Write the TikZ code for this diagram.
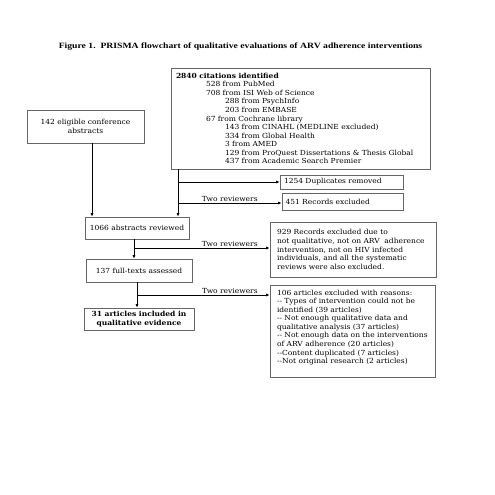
\documentclass[tikz,border=0pt]{standalone}
\usepackage{fontspec}
\setmainfont{DejaVu Serif}[FakeStretch=1.08]
\newfontfamily\titlefont{Liberation Serif}[FakeStretch=1.2]
\usetikzlibrary{arrows.meta}
\definecolor{boxgray}{gray}{0.4}
\tikzset{
  every node/.style={font=\fontsize{7.0}{8.6}\selectfont},
  boxnode/.style={draw=boxgray, line width=0.7bp, inner sep=0pt, align=left},
  cbox/.style={draw=boxgray, line width=0.7bp, inner sep=0pt, align=center},
  conn/.style={draw=black, line width=0.7bp},
  arr/.style={conn, -{Latex[length=3.5bp,width=3bp]}},
  lbl/.style={above, inner sep=0.6bp, font=\fontsize{7.0}{8.6}\selectfont}
}
\begin{document}
\begin{tikzpicture}[x=1bp,y=-1bp]
\useasboundingbox (0,0) rectangle (495,495);
\node[font=\titlefont\fontsize{8.1}{9.5}\selectfont\bfseries] (title) at (240.5,47)
  {Figure 1.\ \ PRISMA flowchart of qualitative evaluations of ARV adherence interventions};

\node[boxnode, minimum width=259bp, minimum height=101bp, text width=249bp] (top) at (300.5,118.5)
  {\textbf{2840 citations identified}\\
   \hspace*{30bp}528 from PubMed\\
   \hspace*{30bp}708 from ISI Web of Science\\
   \hspace*{49bp}288 from PsychInfo\\
   \hspace*{49bp}203 from EMBASE\\
   \hspace*{30bp}67 from Cochrane library\\
   \hspace*{49bp}143 from CINAHL (MEDLINE excluded)\\
   \hspace*{49bp}334 from Global Health\\
   \hspace*{49bp}3 from AMED\\
   \hspace*{49bp}129 from ProQuest Dissertations \& Thesis Global\\
   \hspace*{49bp}437 from Academic Search Premier};

\node[cbox, minimum width=117bp, minimum height=33bp] (conf) at (85.5,126.5)
  {142 eligible conference\\abstracts};

\node[boxnode, minimum width=123bp, minimum height=14bp, text width=115bp] (dup) at (341.5,182)
  {1254 Duplicates removed};
\node[boxnode, minimum width=121bp, minimum height=17bp, text width=114bp] (rec) at (342.5,201.5)
  {451 Records excluded};

\node[cbox, minimum width=104bp, minimum height=22bp] (abs) at (137,228)
  {1066 abstracts reviewed};
\node[boxnode, minimum width=166bp, minimum height=55bp, text width=152bp] (exA) at (353,249.5)
  {929 Records excluded due to\\
   not qualitative, not on ARV\ \ adherence\\
   intervention, not on HIV infected\\
   individuals, and all the systematic\\
   reviews were also excluded.};

\node[cbox, minimum width=106bp, minimum height=23bp] (full) at (139,270.5)
  {137 full-texts assessed};
\node[boxnode, minimum width=165bp, minimum height=92bp, text width=151bp] (exB) at (352.5,331)
  {106 articles excluded with reasons:\\
   -{}- Types of intervention could not be\\
   identified (39 articles)\\
   -{}- Not enough qualitative data and\\
   qualitative analysis (37 articles)\\
   -{}- Not enough data on the interventions\\
   of ARV adherence (20 articles)\\
   -{}-Content duplicated (7 articles)\\
   -{}-Not original research (2 articles)\\
   \mbox{}};

\node[cbox, minimum width=110bp, minimum height=22bp, font=\fontsize{7.0}{8.6}\selectfont\bfseries] (incl) at (139,319)
  {31 articles included in\\qualitative evidence};

% connector columns and branch points
\coordinate (xc) at (92,0);
\coordinate (xt) at (178,0);
\coordinate (xa) at (134,0);
\coordinate (xf) at (137,0);
\coordinate (b1) at (178,182);
\coordinate (b2) at (178,203);
\coordinate (b3) at (134,248);
\coordinate (b4) at (137,295);

\draw[arr] (conf.south -| xc) -- (abs.north -| xc);
\draw[arr] (top.south -| xt) -- (abs.north -| xt);
\draw[arr] (b1) -- (b1 -| dup.west);
\draw[arr] (b2) -- node[lbl] (l1) {Two reviewers} (b2 -| rec.west);
\draw[arr] (abs.south -| xa) -- (full.north -| xa);
\draw[arr] (b3) -- node[lbl, pos=0.706] (l2) {Two reviewers} (b3 -| exA.west);
\draw[arr] (full.south -| xf) -- (incl.north -| xf);
\draw[arr] (b4) -- node[lbl, pos=0.70] (l3) {Two reviewers} (b4 -| exB.west);
\end{tikzpicture}
\end{document}
